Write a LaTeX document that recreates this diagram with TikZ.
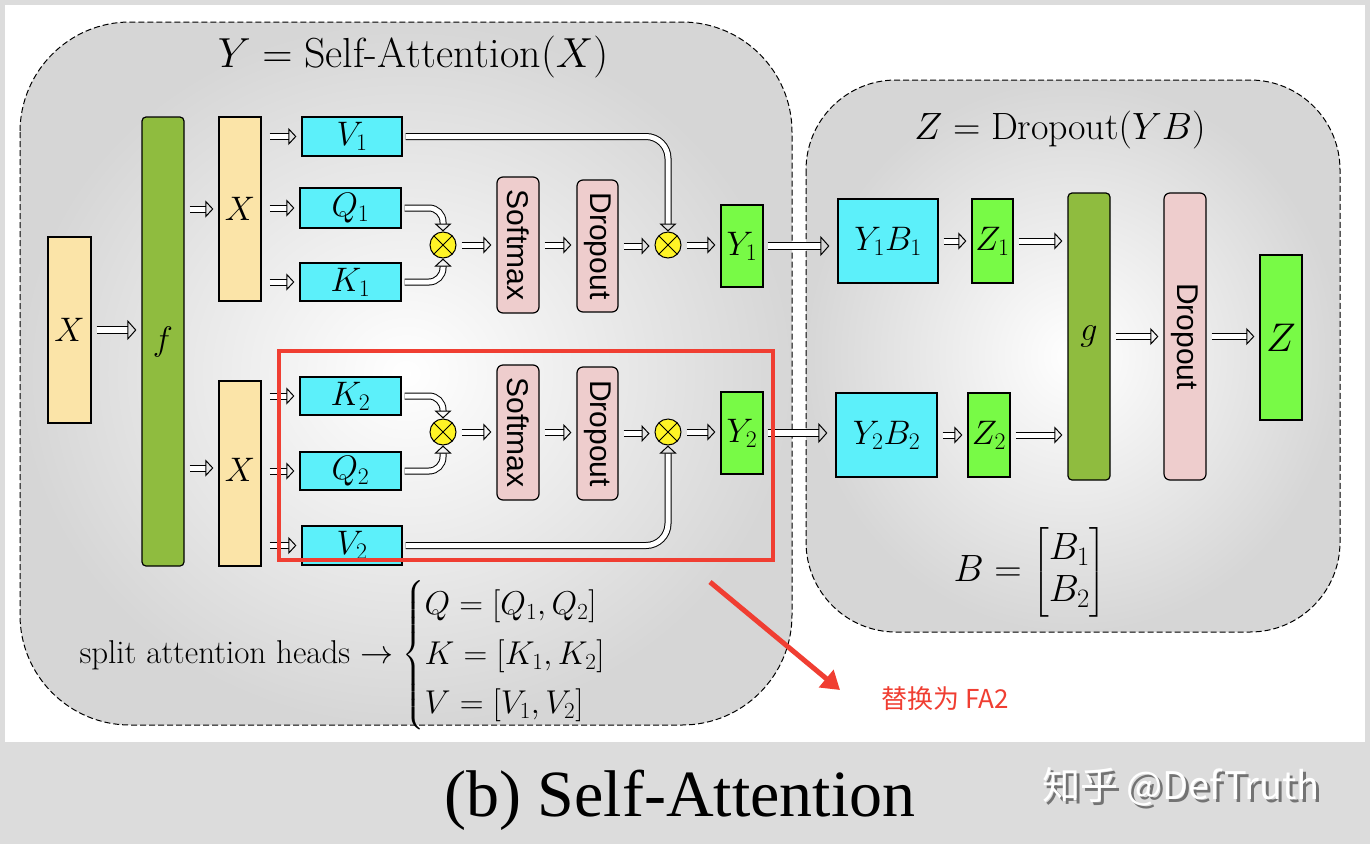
\documentclass[tikz,border=0pt]{standalone}
\usepackage{fix-cm}
\usepackage{amsmath}
\usepackage{fontspec}
\newfontfamily\sfont{Liberation Sans}
\newfontfamily\capfont{Liberation Serif}
\newfontfamily\cjk{Noto Sans CJK SC}
\usetikzlibrary{fit,arrows.meta}
\definecolor{bgray}{RGB}{220,220,220}
\definecolor{xcol}{RGB}{251,228,168}
\definecolor{fcol}{RGB}{143,188,63}
\definecolor{cyanb}{RGB}{92,240,250}
\definecolor{pinkb}{RGB}{238,205,205}
\definecolor{greenb}{RGB}{120,250,70}
\definecolor{redc}{RGB}{240,62,50}
\begin{document}
\begin{tikzpicture}[x=1pt,y=-1pt,
 bx/.style={draw=black, line width=1.2pt, inner sep=0pt},
 xb/.style={bx, fill=xcol},
 fb/.style={bx, fill=fcol, rounded corners=4pt},
 cb/.style={bx, fill=cyanb},
 pb/.style={bx, fill=pinkb, rounded corners=6pt, font=\sfont\fontsize{30}{32}\selectfont},
 gb/.style={bx, fill=greenb},
 ot/.style={circle, draw=black, fill=yellow!85!white, line width=1pt, minimum size=26pt, inner sep=0pt,
   path picture={\draw[line width=1pt] (path picture bounding box.south west) -- (path picture bounding box.north east)
     (path picture bounding box.north west) -- (path picture bounding box.south east);}},
 dbl/.style={double=white, double distance=5pt, line width=1pt, -{Triangle[open,length=8pt,width=17pt,line width=1pt]}},
 dbb/.style={dbl, double distance=6pt, -{Triangle[open,length=9pt,width=20pt,line width=1pt]}},
 region/.style={draw=black, dash pattern=on 6pt off 3pt, line width=1pt, rounded corners=110pt, inner color=white, outer color=black!16},
 lbl/.style={font=\fontsize{34}{38}\selectfont}]
\useasboundingbox (0,0) rectangle (1370,844);
\fill[bgray] (0,0) rectangle (1370,844);
\fill[white] (5,5) rectangle (1365,742);
\shade[region] (20,22) rectangle (792,725);
\shade[region, rounded corners=90pt] (806,80) rectangle (1340,632);
\node[font=\fontsize{42}{46}\selectfont] (t1) at (413,57) {$Y=\mathrm{Self\text{-}Attention}(X)$};
\node[font=\fontsize{38}{42}\selectfont] (t2) at (1060,130) {$Z=\mathrm{Dropout}(YB)$};
\node[font=\fontsize{38}{42}\selectfont] (t3) at (1030,572) {$B=\begin{bmatrix}B_1\\B_2\end{bmatrix}$};
% left blocks
\node[xb, fit={(48,237)(91,423)}] (x0) {};
\node[lbl] at (x0) {$X$};
\node[fb, fit={(142,117)(184,566)}] (f) {};
\node[lbl] at (f) {$f$};
\node[xb, fit={(219,117)(261,301)}] (xa) {};
\node[lbl] at (240,209) {$X$};
\node[xb, fit={(219,381)(261,566)}] (xb) {};
\node[lbl] at (240,470) {$X$};
% upper head
\node[cb, fit={(302,117)(402,156)}] (v1) {}; \node[lbl] at (v1) {$V_1$};
\node[cb, fit={(300,188)(401,228)}] (q1) {}; \node[lbl] at (q1) {$Q_1$};
\node[cb, fit={(300,263)(401,301)}] (k1) {}; \node[lbl] at (k1) {$K_1$};
\node[ot] (o1) at (443,245) {};
\node[pb, fit={(497,177)(539,313)}] (s1) {}; \node[pb, draw=none, fill=none, rotate=-90] at (s1) {Softmax};
\node[pb, fit={(577,180)(618,312)}] (d1) {}; \node[pb, draw=none, fill=none, rotate=-90] at (d1) {Dropout};
\node[ot] (o2) at (668,245) {};
\node[gb, fit={(721,205)(763,287)}] (y1) {}; \node[lbl] at (y1) {$Y_1$};
% lower head
\node[cb, fit={(300,377)(401,415)}] (k2) {}; \node[lbl] at (k2) {$K_2$};
\node[cb, fit={(300,452)(401,490)}] (q2) {}; \node[lbl] at (q2) {$Q_2$};
\node[cb, fit={(302,526)(402,565)}] (v2) {}; \node[lbl] at (v2) {$V_2$};
\node[ot] (o3) at (443,432) {};
\node[pb, fit={(497,365)(539,500)}] (s2) {}; \node[pb, draw=none, fill=none, rotate=-90] at (s2) {Softmax};
\node[pb, fit={(577,367)(618,500)}] (d2) {}; \node[pb, draw=none, fill=none, rotate=-90] at (d2) {Dropout};
\node[ot] (o4) at (668,432) {};
\node[gb, fit={(721,392)(763,474)}] (y2) {}; \node[lbl] at (y2) {$Y_2$};
% right blocks
\node[cb, fit={(838,199)(938,283)}] (yb1) {}; \node[lbl] at (yb1) {$Y_1B_1$};
\node[gb, fit={(972,199)(1013,283)}] (z1) {}; \node[lbl] at (z1) {$Z_1$};
\node[cb, fit={(836,393)(937,477)}] (yb2) {}; \node[lbl] at (yb2) {$Y_2B_2$};
\node[gb, fit={(968,393)(1010,477)}] (z2) {}; \node[lbl] at (z2) {$Z_2$};
\node[fb, fit={(1068,193)(1110,480)}] (g) {}; \node[lbl] at (g) {$g$};
\node[pb, fit={(1164,193)(1206,480)}] (dr) {}; \node[pb, draw=none, fill=none, rotate=-90] at (dr) {Dropout};
\node[gb, fit={(1260,255)(1302,420)}] (z) {}; \node[font=\fontsize{40}{42}\selectfont] at (z) {$Z$};
% arrows
\draw[dbb, shorten <=5pt, shorten >=5pt] (x0.east) -- (x0.east -| f.west);
\draw[dbl, shorten <=5pt, shorten >=5pt] (f.east |- xa) -- (xa.west);
\draw[dbl, shorten <=5pt, shorten >=5pt] (f.east |- 0,468) -- (xb.west |- 0,468);
\foreach \n in {v1,q1,k1,k2,q2,v2}
  \draw[dbl, shorten <=8pt, shorten >=5pt] (xa.east |- \n) -- (\n.west);
\draw[dbl, rounded corners=14pt, shorten <=3pt] (q1.east) -- (o1.north |- q1.east) -- (o1.north);
\draw[dbl, rounded corners=14pt, shorten <=3pt] (k1.east) -- (o1.south |- k1.east) -- (o1.south);
\draw[dbl, rounded corners=22pt, shorten <=3pt] (v1.east) -- (o2.north |- v1.east) -- (o2.north);
\draw[dbl, rounded corners=14pt, shorten <=3pt] (k2.east) -- (o3.north |- k2.east) -- (o3.north);
\draw[dbl, rounded corners=14pt, shorten <=3pt] (q2.east) -- (o3.south |- q2.east) -- (o3.south);
\draw[dbl, rounded corners=22pt, shorten <=3pt] (v2.east) -- (o4.south |- v2.east) -- (o4.south);
\foreach \a/\b in {o1/s1,s1/d1,d1/o2,o2/y1,o3/s2,s2/d2,d2/o4,o4/y2,z1/g,z2/g,g/dr,dr/z,yb1/z1,yb2/z2}
  \draw[dbl, shorten <=5pt, shorten >=5pt] (\a.east |- \a) -- (\b.west |- \a);
\draw[dbb, shorten <=4pt, shorten >=8pt] (y1.east) -- (yb1.west |- y1.east);
\draw[dbb, shorten <=4pt, shorten >=8pt] (y2.east) -- (yb2.west |- y2.east);
% split heads
\node[font=\fontsize{33}{38}\selectfont, anchor=west] (sp) at (76,655) {split attention heads $\rightarrow\begin{cases}Q=[Q_1,Q_2]\\[4pt]K=[K_1,K_2]\\[4pt]V=[V_1,V_2]\end{cases}$};
% red annotation
\draw[redc, line width=4pt] (279,351) rectangle (773,560);
\coordinate (ra) at (710,582);
\coordinate (rb) at (840,690);
\draw[redc, line width=5pt, -{Triangle[length=18pt,width=22pt]}] (ra) -- (rb);
\node[text=redc, font=\cjk\fontsize{26}{28}\selectfont] (fa) at (945,699) {替换为 FA2};
% caption
\node[font=\capfont\fontsize{66}{70}\selectfont] (cap) at (680,800) {(b) Self-Attention};
\node[text=black!55, font=\cjk\fontsize{38}{40}\selectfont] at (1184,790) {知乎 @DefTruth};
\node[text=white, font=\cjk\fontsize{38}{40}\selectfont] (wm) at (1181,787) {知乎 @DefTruth};
\end{tikzpicture}
\end{document}
